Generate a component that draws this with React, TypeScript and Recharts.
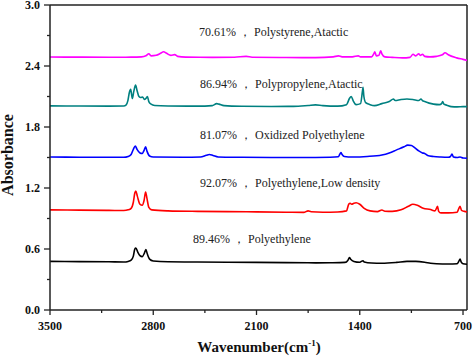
import React from "react";
import { LineChart, Line, XAxis, YAxis, ReferenceLine, ReferenceDot } from "recharts";

// wavenumber (cm-1) / absorbance pairs
const polyethylene = [
  [3500, 0.478], [3300, 0.476], [3100, 0.474], [3000, 0.472], [2970, 0.478], [2950, 0.49], [2935, 0.53],
  [2925, 0.6], [2918, 0.61], [2905, 0.57], [2890, 0.535], [2875, 0.525], [2860, 0.56], [2850, 0.595],
  [2840, 0.55], [2825, 0.5], [2800, 0.482], [2700, 0.474], [2500, 0.472], [2300, 0.47], [2100, 0.468],
  [1900, 0.466], [1700, 0.464], [1600, 0.465], [1500, 0.468], [1480, 0.49], [1470, 0.515], [1462, 0.5],
  [1440, 0.478], [1400, 0.47], [1378, 0.485], [1370, 0.472], [1320, 0.462], [1250, 0.46], [1150, 0.468],
  [1080, 0.478], [1020, 0.478], [960, 0.47], [920, 0.46], [880, 0.455], [800, 0.452], [740, 0.455],
  [728, 0.48], [720, 0.5], [712, 0.47], [700, 0.455], [673, 0.45],
];

const ldpe = [
  [3500, 0.985], [3300, 0.982], [3100, 0.98], [3000, 0.978], [2970, 0.985], [2950, 1.0], [2935, 1.06],
  [2925, 1.15], [2918, 1.17], [2908, 1.12], [2890, 1.04], [2875, 1.03], [2862, 1.08], [2852, 1.16],
  [2843, 1.1], [2830, 1.01], [2810, 0.985], [2700, 0.975], [2500, 0.97], [2300, 0.968], [2100, 0.965],
  [1900, 0.962], [1780, 0.96], [1750, 0.975], [1730, 0.966], [1650, 0.962], [1550, 0.964], [1490, 0.975],
  [1475, 1.04], [1465, 1.05], [1455, 1.04], [1440, 1.05], [1425, 1.055], [1400, 1.04], [1370, 1.0],
  [1330, 0.975], [1280, 0.968], [1250, 0.983], [1230, 0.972], [1180, 0.97], [1120, 0.985], [1070, 1.02],
  [1040, 1.04], [1010, 1.03], [970, 1.0], [920, 0.988], [890, 0.975], [880, 1.0], [873, 1.02], [865, 0.97],
  [850, 0.955], [800, 0.955], [740, 0.962], [728, 1.0], [720, 1.02], [710, 0.98], [690, 0.97], [673, 0.965],
];

const oxidized = [
  [3500, 1.505], [3300, 1.503], [3100, 1.502], [3000, 1.502], [2970, 1.51], [2950, 1.53], [2935, 1.58],
  [2922, 1.613], [2910, 1.58], [2890, 1.545], [2875, 1.54], [2862, 1.57], [2852, 1.605], [2842, 1.56],
  [2825, 1.515], [2800, 1.505], [2600, 1.503], [2480, 1.505], [2440, 1.522], [2420, 1.53], [2395, 1.52],
  [2360, 1.505], [2200, 1.502], [2000, 1.5], [1800, 1.5], [1600, 1.503], [1545, 1.508], [1528, 1.548],
  [1520, 1.53], [1505, 1.51], [1450, 1.505], [1350, 1.51], [1250, 1.525], [1200, 1.545], [1150, 1.575],
  [1100, 1.605], [1075, 1.622], [1050, 1.618], [1030, 1.6], [1000, 1.565], [975, 1.545], [960, 1.54],
  [940, 1.52], [900, 1.51], [850, 1.505], [800, 1.503], [785, 1.51], [775, 1.535], [765, 1.505],
  [740, 1.5], [720, 1.505], [700, 1.495], [673, 1.493],
];

const polypropylene = [
  [3500, 2.008], [3300, 2.006], [3100, 2.005], [3000, 2.006], [2985, 2.015], [2972, 2.06], [2962, 2.14],
  [2953, 2.17], [2942, 2.08], [2932, 2.15], [2920, 2.212], [2910, 2.16], [2897, 2.1], [2885, 2.09],
  [2872, 2.095], [2860, 2.07], [2850, 2.08], [2840, 2.1], [2830, 2.05], [2815, 2.025], [2790, 2.012],
  [2700, 2.007], [2500, 2.005], [2400, 2.01], [2370, 2.03], [2355, 2.025], [2320, 2.01], [2200, 2.004],
  [2000, 2.002], [1850, 2.003], [1750, 2.012], [1700, 2.018], [1650, 2.01], [1550, 2.005], [1490, 2.02],
  [1470, 2.08], [1458, 2.1], [1445, 2.06], [1425, 2.02], [1395, 2.03], [1382, 2.15], [1378, 2.19],
  [1372, 2.1], [1360, 2.04], [1330, 2.02], [1300, 2.01], [1250, 2.03], [1200, 2.05], [1172, 2.075],
  [1160, 2.06], [1120, 2.07], [1080, 2.075], [1040, 2.07], [1000, 2.06], [985, 2.075], [975, 2.06],
  [960, 2.05], [930, 2.035], [900, 2.025], [860, 2.02], [845, 2.03], [838, 2.05], [830, 2.025],
  [810, 2.015], [780, 2.0], [740, 1.998], [700, 2.0], [673, 2.0],
];

const polystyrene = [
  [3500, 2.488], [3300, 2.487], [3100, 2.486], [2950, 2.487], [2880, 2.49], [2850, 2.5], [2830, 2.52],
  [2815, 2.5], [2780, 2.505], [2750, 2.525], [2730, 2.54], [2710, 2.525], [2680, 2.505], [2655, 2.512],
  [2635, 2.495], [2580, 2.487], [2400, 2.485], [2250, 2.486], [2170, 2.495], [2130, 2.486], [1900, 2.483],
  [1700, 2.482], [1580, 2.49], [1545, 2.5], [1520, 2.49], [1450, 2.49], [1410, 2.5], [1395, 2.49],
  [1320, 2.49], [1305, 2.52], [1298, 2.54], [1288, 2.5], [1270, 2.505], [1258, 2.55], [1250, 2.52],
  [1230, 2.49], [1180, 2.485], [1110, 2.48], [1060, 2.485], [1039, 2.515], [1020, 2.5], [1000, 2.52],
  [990, 2.505], [975, 2.515], [960, 2.495], [924, 2.49], [880, 2.495], [840, 2.51], [822, 2.53],
  [800, 2.51], [743, 2.48], [700, 2.465], [673, 2.455],
];

const seriesNames = ["Polyethylene", "LDPE", "Oxidized", "Polypropylene", "Polystyrene"];
const seriesColors = ["#000000", "#ff0000", "#0000ff", "#008080", "#ff00ff"];
const seriesPoints = [polyethylene, ldpe, oxidized, polypropylene, polystyrene];

const labelTexts = [
  "89.46% ， Polyethylene",
  "92.07% ， Polyethylene,Low density",
  "81.07% ， Oxidized Polyethylene",
  "86.94% ， Polypropylene,Atactic",
  "70.61% ， Polystyrene,Atactic",
];
const labelWn = [2530, 2483, 2483, 2483, 2490];
const labelAbs = [0.698, 1.249, 1.72, 2.223, 2.734];

const xMajor = [3500, 2800, 2100, 1400, 700];
const xMinor = [3150, 2450, 1750, 1050];
const yMajor = [0, 0.6, 1.2, 1.8, 2.4, 3.0];
const yMinor = [0.3, 0.9, 1.5, 2.1, 2.7];
const X_MIN = 673;
const X_MAX = 3500;

const FONT = "'Liberation Serif', 'Times New Roman', serif";
const AXIS = "#222";

const toRows = (pts: number[][]) => pts.map(([wn, a]) => ({ wn, a }));

const XTick = (props: any) => {
  const { x, y, payload } = props;
  const major = xMajor.includes(payload.value);
  return (
    <g>
      <line x1={x} x2={x} y1={y} y2={y + (major ? 5 : 3)} stroke={AXIS} strokeWidth={1.3} />
      {major && (
        <text x={x} y={y + 20} textAnchor="middle" fontFamily={FONT} fontWeight="bold" fontSize={12} fill="#111">
          {payload.value}
        </text>
      )}
    </g>
  );
};

const YTick = (props: any) => {
  const { x, y, payload } = props;
  const major = yMajor.some((v) => Math.abs(v - payload.value) < 1e-6);
  return (
    <g>
      <line x1={x} x2={x - (major ? 6 : 3)} y1={y} y2={y} stroke={AXIS} strokeWidth={1.3} />
      {major && (
        <text x={x - 10} y={y + 4} textAnchor="end" fontFamily={FONT} fontWeight="bold" fontSize={12} fill="#111">
          {payload.value.toFixed(1)}
        </text>
      )}
    </g>
  );
};

export default function App() {
  return (
    <div style={{ position: "absolute", left: 0, top: 0 }}>
      <LineChart width={474} height={357} margin={{ top: 5, right: 7, bottom: 0, left: 0 }}>
        <XAxis
          type="number"
          dataKey="wn"
          domain={[X_MIN, X_MAX]}
          reversed
          allowDataOverflow
          ticks={[...xMajor, ...xMinor]}
          tick={<XTick />}
          tickLine={false}
          tickSize={0}
          tickMargin={0}
          height={47}
          axisLine={{ stroke: AXIS, strokeWidth: 1.5 }}
          interval={0}
        />
        <YAxis
          type="number"
          domain={[0, 3]}
          ticks={[...yMajor, ...yMinor]}
          tick={<YTick />}
          tickLine={false}
          tickSize={0}
          tickMargin={0}
          width={50}
          axisLine={{ stroke: AXIS, strokeWidth: 1.5 }}
          interval={0}
        />
        <ReferenceLine y={3} stroke={AXIS} strokeWidth={1.5} />
        <ReferenceLine x={X_MIN} stroke={AXIS} strokeWidth={1.5} />
        {seriesPoints.map((pts, i) => (
          <Line
            key={seriesNames[i]}
            data={toRows(pts)}
            dataKey="a"
            name={seriesNames[i]}
            type="monotone"
            stroke={seriesColors[i]}
            strokeWidth={1.6}
            dot={false}
            isAnimationActive={false}
          />
        ))}
        {labelTexts.map((t, i) => (
          <ReferenceDot
            key={t}
            x={labelWn[i]}
            y={labelAbs[i]}
            r={0}
            fill="none"
            stroke="none"
            label={{ value: t, position: "right", offset: 0, fill: "#222", fontSize: 12, fontFamily: FONT }}
          />
        ))}
        <text x={13} y={155} transform="rotate(-90 13 155)" textAnchor="middle" fontFamily={FONT} fontWeight="bold" fontSize={16} fill="#111">
          Absorbance
        </text>
        <text x={259} y={352} textAnchor="middle" fontFamily={FONT} fontWeight="bold" fontSize={15} fill="#111">
          Wavenumber(cm
          <tspan fontSize={9} dy={-6}>-1</tspan>
          <tspan dy={6}>)</tspan>
        </text>
      </LineChart>
    </div>
  );
}
